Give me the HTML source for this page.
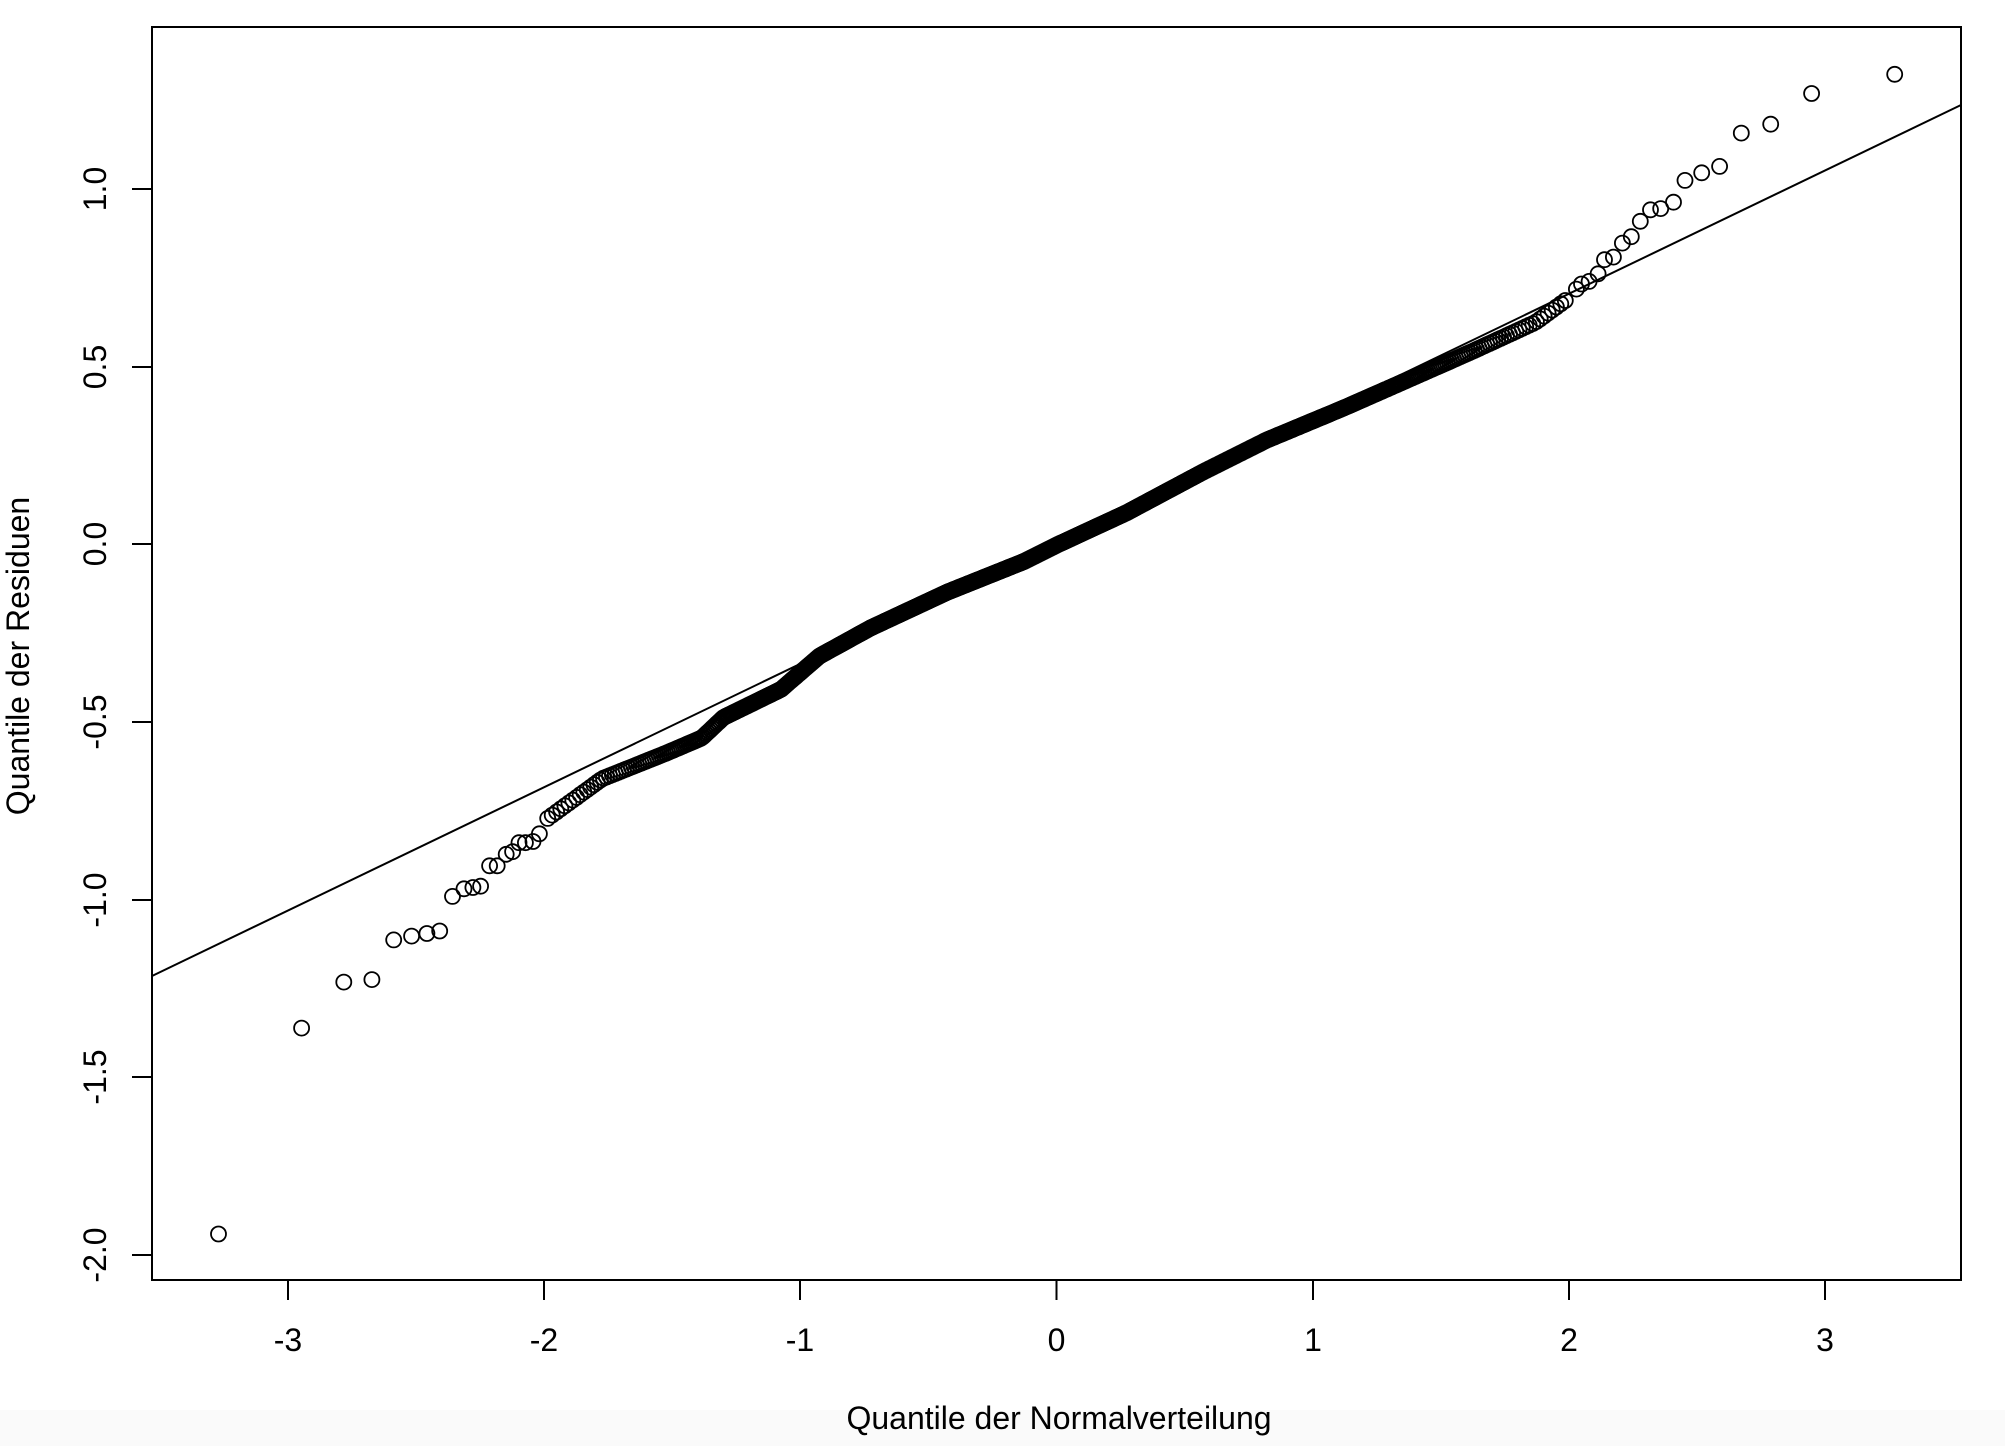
<!DOCTYPE html>
<html><head><meta charset="utf-8"><style>
html,body{margin:0;padding:0;background:#fff;}
svg{display:block;}
text{font-family:"Liberation Sans",Arial,sans-serif;font-size:32px;fill:#000;}
</style></head><body>
<svg id="s" width="2005" height="1446" xmlns="http://www.w3.org/2000/svg">
<rect x="0" y="0" width="2005" height="1446" fill="#fff"/>
<rect x="0" y="1410" width="2005" height="36" fill="#fafafa"/>
<rect x="152" y="27" width="1809" height="1253" fill="none" stroke="#000" stroke-width="2"/>
<g stroke="#000" stroke-width="2">
<line x1="288" y1="1280" x2="288" y2="1300"/>
<line x1="544" y1="1280" x2="544" y2="1300"/>
<line x1="800" y1="1280" x2="800" y2="1300"/>
<line x1="1056.5" y1="1280" x2="1056.5" y2="1300"/>
<line x1="1313" y1="1280" x2="1313" y2="1300"/>
<line x1="1569" y1="1280" x2="1569" y2="1300"/>
<line x1="1825" y1="1280" x2="1825" y2="1300"/>
<line x1="132" y1="189" x2="152" y2="189"/>
<line x1="132" y1="367" x2="152" y2="367"/>
<line x1="132" y1="544" x2="152" y2="544"/>
<line x1="132" y1="722" x2="152" y2="722"/>
<line x1="132" y1="900" x2="152" y2="900"/>
<line x1="132" y1="1077" x2="152" y2="1077"/>
<line x1="132" y1="1255" x2="152" y2="1255"/>
</g>
<g text-anchor="middle">
<text x="288" y="1351">-3</text>
<text x="544" y="1351">-2</text>
<text x="800" y="1351">-1</text>
<text x="1056.5" y="1351">0</text>
<text x="1313" y="1351">1</text>
<text x="1569" y="1351">2</text>
<text x="1825" y="1351">3</text>
<text transform="translate(106,189) rotate(-90)">1.0</text>
<text transform="translate(106,367) rotate(-90)">0.5</text>
<text transform="translate(106,544) rotate(-90)">0.0</text>
<text transform="translate(106,722) rotate(-90)">-0.5</text>
<text transform="translate(106,900) rotate(-90)">-1.0</text>
<text transform="translate(106,1077) rotate(-90)">-1.5</text>
<text transform="translate(106,1255) rotate(-90)">-2.0</text>
<text x="1059" y="1429">Quantile der Normalverteilung</text>
<text transform="translate(29,656) rotate(-90)">Quantile der Residuen</text>
</g>
<line x1="152" y1="976" x2="1961" y2="105" stroke="#000" stroke-width="2"/>
<g id="pts" fill="none" stroke="#000" stroke-width="1.8"></g>
</svg>
<script>
var k=1.2786;
function X(d){return 152+(d-118)*k;} function Y(d){return 27+(d-20)*k;}
var g=document.getElementById('pts'),h='';
function c(x,y){h+='<circle cx="'+x.toFixed(1)+'" cy="'+y.toFixed(1)+'" r="7.5"/>';}
var tl=[[170,964],[235,803],[268,767],[290,765],[307,734],[321,731],[333,729],[343,727],[353,700],[362,694],[369,693],[375,692],[382,676],[388,676],[395,667],[400,665],[405,658],[410,658],[416,657],[421,651],
[1481,57],[1416,72],[1384,96],[1361,103],[1344,129],[1330,134],[1317,140],[1308,157],[1298,162],[1290,163],[1282,172],[1275,184],[1268,189],[1261,200],[1254,202],[1249,213],[1242,219],[1236,221],[1232,225]];
tl.forEach(function(p){c(X(p[0]),Y(p[1]));});
var path=[[426,640],[470,608],[520,588],[548,576],[565,560],[610,538],[640,512],[680,490],[740,462],[800,438],[826,425],[880,400],[940,368],[990,343],[1050,318],[1100,296],[1150,274],[1200,251],[1226,232]];
function qn(p){var a=[-39.6968302866538,220.946098424521,-275.928510446969,138.357751867269,-30.6647980661472,2.50662827745924],b=[-54.4760987982241,161.585836858041,-155.698979859887,66.8013118877197,-13.2806815528857],cc=[-0.00778489400243029,-0.322396458041136,-2.40075827716184,-2.54973253934373,4.37466414146497,2.93816398269878],d=[0.00778469570904146,0.32246712907004,2.445134137143,3.75440866190742];var q,r;if(p<0.02425){q=Math.sqrt(-2*Math.log(p));return(((((cc[0]*q+cc[1])*q+cc[2])*q+cc[3])*q+cc[4])*q+cc[5])/((((d[0]*q+d[1])*q+d[2])*q+d[3])*q+1);}if(p>1-0.02425){return -qn(1-p);}q=p-0.5;r=q*q;return(((((a[0]*r+a[1])*r+a[2])*r+a[3])*r+a[4])*r+a[5])*q/(((((b[0]*r+b[1])*r+b[2])*r+b[3])*r+b[4])*r+1);}
var n=1000;
for(var i=1;i<=n;i++){var z=qn((i-0.5)/n);var Xr=1056.5+z*256.17;var xd=(Xr-152)/k+118;if(xd<426||xd>1226)continue;
for(var j=0;j<path.length-1;j++){if(xd>=path[j][0]&&xd<=path[j+1][0]){var t=(xd-path[j][0])/(path[j+1][0]-path[j][0]);var yd=path[j][1]+t*(path[j+1][1]-path[j][1]);c(Xr,Y(yd));break;}}}
g.innerHTML=h;
</script>
</body></html>
